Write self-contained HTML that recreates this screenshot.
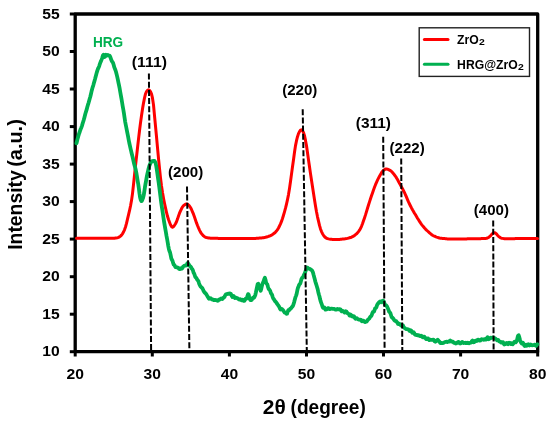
<!DOCTYPE html>
<html lang="en">
<head>
<meta charset="utf-8">
<title>XRD pattern: ZrO2 and HRG@ZrO2</title>
<style>
html,body{margin:0;padding:0;background:#fff;}
body{width:550px;height:423px;overflow:hidden;font-family:"Liberation Sans",sans-serif;}
svg{display:block;}
</style>
</head>
<body>
<svg width="550" height="423" viewBox="0 0 550 423">
<rect width="550" height="423" fill="#fff"/>
<rect x="75.2" y="14.0" width="462.5" height="337.7" fill="none" stroke="#000" stroke-width="3.3" stroke-linejoin="round"/>
<line x1="69.8" y1="351.7" x2="75.2" y2="351.7" stroke="#000" stroke-width="3"/>
<line x1="69.8" y1="314.2" x2="75.2" y2="314.2" stroke="#000" stroke-width="3"/>
<line x1="69.8" y1="276.7" x2="75.2" y2="276.7" stroke="#000" stroke-width="3"/>
<line x1="69.8" y1="239.1" x2="75.2" y2="239.1" stroke="#000" stroke-width="3"/>
<line x1="69.8" y1="201.6" x2="75.2" y2="201.6" stroke="#000" stroke-width="3"/>
<line x1="69.8" y1="164.1" x2="75.2" y2="164.1" stroke="#000" stroke-width="3"/>
<line x1="69.8" y1="126.6" x2="75.2" y2="126.6" stroke="#000" stroke-width="3"/>
<line x1="69.8" y1="89.0" x2="75.2" y2="89.0" stroke="#000" stroke-width="3"/>
<line x1="69.8" y1="51.5" x2="75.2" y2="51.5" stroke="#000" stroke-width="3"/>
<line x1="69.8" y1="14.0" x2="75.2" y2="14.0" stroke="#000" stroke-width="3"/>
<line x1="75.2" y1="351.7" x2="75.2" y2="356.5" stroke="#000" stroke-width="3"/>
<line x1="152.3" y1="351.7" x2="152.3" y2="356.5" stroke="#000" stroke-width="3"/>
<line x1="229.4" y1="351.7" x2="229.4" y2="356.5" stroke="#000" stroke-width="3"/>
<line x1="306.5" y1="351.7" x2="306.5" y2="356.5" stroke="#000" stroke-width="3"/>
<line x1="383.5" y1="351.7" x2="383.5" y2="356.5" stroke="#000" stroke-width="3"/>
<line x1="460.6" y1="351.7" x2="460.6" y2="356.5" stroke="#000" stroke-width="3"/>
<line x1="537.7" y1="351.7" x2="537.7" y2="356.5" stroke="#000" stroke-width="3"/>
<path d="M76.5,238.3 L77.5,238.3 L78.5,238.3 L79.5,238.3 L80.5,238.3 L81.5,238.3 L82.5,238.3 L83.5,238.3 L84.5,238.3 L85.5,238.3 L86.5,238.3 L87.5,238.3 L88.5,238.3 L89.5,238.3 L90.5,238.3 L91.5,238.3 L92.5,238.3 L93.5,238.3 L94.5,238.3 L95.5,238.3 L96.5,238.3 L97.5,238.3 L98.5,238.3 L99.5,238.3 L100.5,238.3 L101.5,238.3 L102.5,238.3 L103.5,238.3 L104.5,238.3 L105.5,238.3 L106.5,238.3 L107.5,238.3 L108.5,238.3 L109.5,238.3 L110.5,238.3 L111.5,238.3 L112.5,238.3 L113.5,238.3 L114.5,238.2 L115.5,238.0 L116.5,237.9 L117.5,237.7 L118.5,237.4 L119.5,236.9 L120.5,236.1 L121.5,235.1 L122.5,233.8 L123.5,232.0 L124.5,229.8 L125.5,227.0 L126.5,223.4 L127.5,219.1 L128.5,214.9 L129.5,210.7 L130.5,206.0 L131.5,200.6 L132.5,193.6 L133.5,184.7 L134.5,175.1 L135.5,165.6 L136.5,156.8 L137.5,148.0 L138.5,139.2 L139.5,130.8 L140.5,122.9 L141.5,115.8 L142.5,109.0 L143.5,103.1 L144.5,98.0 L145.5,93.8 L146.5,91.7 L147.5,90.3 L148.5,89.8 L149.5,90.3 L150.5,91.7 L151.5,93.8 L152.5,98.2 L153.5,104.9 L154.5,115.7 L155.5,126.1 L156.5,136.7 L157.5,147.6 L158.5,158.3 L159.5,168.5 L160.5,177.8 L161.5,185.9 L162.5,192.5 L163.5,198.2 L164.5,203.3 L165.5,207.9 L166.5,212.3 L167.5,216.3 L168.5,219.5 L169.5,222.2 L170.5,224.8 L171.5,226.6 L172.5,227.2 L173.5,226.6 L174.5,225.3 L175.5,223.7 L176.5,221.8 L177.5,219.1 L178.5,216.0 L179.5,213.2 L180.5,210.9 L181.5,208.8 L182.5,206.9 L183.5,205.7 L184.5,204.9 L185.5,204.2 L186.5,203.9 L187.5,204.1 L188.5,205.0 L189.5,206.1 L190.5,207.5 L191.5,209.5 L192.5,211.8 L193.5,214.2 L194.5,217.0 L195.5,220.0 L196.5,222.9 L197.5,225.5 L198.5,227.9 L199.5,230.1 L200.5,232.1 L201.5,233.6 L202.5,234.8 L203.5,235.9 L204.5,236.7 L205.5,237.3 L206.5,237.6 L207.5,237.8 L208.5,238.0 L209.5,238.1 L210.5,238.2 L211.5,238.3 L212.5,238.3 L213.5,238.3 L214.5,238.3 L215.5,238.3 L216.5,238.3 L217.5,238.3 L218.5,238.4 L219.5,238.4 L220.5,238.4 L221.5,238.4 L222.5,238.4 L223.5,238.4 L224.5,238.4 L225.5,238.4 L226.5,238.4 L227.5,238.4 L228.5,238.4 L229.5,238.4 L230.5,238.4 L231.5,238.4 L232.5,238.4 L233.5,238.4 L234.5,238.4 L235.5,238.4 L236.5,238.4 L237.5,238.4 L238.5,238.5 L239.5,238.5 L240.5,238.5 L241.5,238.5 L242.5,238.5 L243.5,238.5 L244.5,238.5 L245.5,238.5 L246.5,238.5 L247.5,238.5 L248.5,238.5 L249.5,238.5 L250.5,238.5 L251.5,238.5 L252.5,238.5 L253.5,238.4 L254.5,238.4 L255.5,238.4 L256.5,238.3 L257.5,238.2 L258.5,238.2 L259.5,238.1 L260.5,238.0 L261.5,237.9 L262.5,237.8 L263.5,237.7 L264.5,237.5 L265.5,237.3 L266.5,237.0 L267.5,236.7 L268.5,236.4 L269.5,236.0 L270.5,235.6 L271.5,235.1 L272.5,234.5 L273.5,233.8 L274.5,233.1 L275.5,232.1 L276.5,231.0 L277.5,229.6 L278.5,228.0 L279.5,226.0 L280.5,223.9 L281.5,221.4 L282.5,218.5 L283.5,215.3 L284.5,211.9 L285.5,208.2 L286.5,204.1 L287.5,199.6 L288.5,194.6 L289.5,188.5 L290.5,181.5 L291.5,174.1 L292.5,166.8 L293.5,159.7 L294.5,152.3 L295.5,145.6 L296.5,140.7 L297.5,136.7 L298.5,133.6 L299.5,131.6 L300.5,130.2 L301.5,129.8 L302.5,130.8 L303.5,132.5 L304.5,135.6 L305.5,140.4 L306.5,145.8 L307.5,152.7 L308.5,159.9 L309.5,166.8 L310.5,173.6 L311.5,180.3 L312.5,186.8 L313.5,193.3 L314.5,199.8 L315.5,206.1 L316.5,211.8 L317.5,216.8 L318.5,221.2 L319.5,225.4 L320.5,228.9 L321.5,231.6 L322.5,233.7 L323.5,235.3 L324.5,236.6 L325.5,237.6 L326.5,238.3 L327.5,238.6 L328.5,238.9 L329.5,239.1 L330.5,239.3 L331.5,239.3 L332.5,239.4 L333.5,239.4 L334.5,239.5 L335.5,239.5 L336.5,239.5 L337.5,239.5 L338.5,239.4 L339.5,239.4 L340.5,239.3 L341.5,239.2 L342.5,239.1 L343.5,239.0 L344.5,238.9 L345.5,238.7 L346.5,238.6 L347.5,238.4 L348.5,238.1 L349.5,237.8 L350.5,237.5 L351.5,237.2 L352.5,236.7 L353.5,236.1 L354.5,235.5 L355.5,234.7 L356.5,233.9 L357.5,232.8 L358.5,231.6 L359.5,230.2 L360.5,228.5 L361.5,226.3 L362.5,223.7 L363.5,220.8 L364.5,217.9 L365.5,214.9 L366.5,211.6 L367.5,208.3 L368.5,205.0 L369.5,201.9 L370.5,198.8 L371.5,195.8 L372.5,192.9 L373.5,190.0 L374.5,187.3 L375.5,184.7 L376.5,182.3 L377.5,180.1 L378.5,178.1 L379.5,176.2 L380.5,174.4 L381.5,172.7 L382.5,171.3 L383.5,170.4 L384.5,169.6 L385.5,169.1 L386.5,169.0 L387.5,169.2 L388.5,169.6 L389.5,170.1 L390.5,170.6 L391.5,171.4 L392.5,172.5 L393.5,173.7 L394.5,175.0 L395.5,176.3 L396.5,177.9 L397.5,179.6 L398.5,181.4 L399.5,183.2 L400.5,185.1 L401.5,187.0 L402.5,188.8 L403.5,190.7 L404.5,192.7 L405.5,194.8 L406.5,197.2 L407.5,199.6 L408.5,201.9 L409.5,204.0 L410.5,206.0 L411.5,207.9 L412.5,209.7 L413.5,211.4 L414.5,213.2 L415.5,214.8 L416.5,216.5 L417.5,218.2 L418.5,219.8 L419.5,221.4 L420.5,222.9 L421.5,224.3 L422.5,225.6 L423.5,226.8 L424.5,228.0 L425.5,229.1 L426.5,230.1 L427.5,231.0 L428.5,231.9 L429.5,232.8 L430.5,233.7 L431.5,234.5 L432.5,235.2 L433.5,235.8 L434.5,236.2 L435.5,236.7 L436.5,237.1 L437.5,237.4 L438.5,237.7 L439.5,238.0 L440.5,238.2 L441.5,238.3 L442.5,238.4 L443.5,238.5 L444.5,238.6 L445.5,238.7 L446.5,238.8 L447.5,238.9 L448.5,238.9 L449.5,239.0 L450.5,239.0 L451.5,239.0 L452.5,239.0 L453.5,239.0 L454.5,239.0 L455.5,239.0 L456.5,239.0 L457.5,239.0 L458.5,239.0 L459.5,239.0 L460.5,238.9 L461.5,238.9 L462.5,238.9 L463.5,238.9 L464.5,238.9 L465.5,238.9 L466.5,238.9 L467.5,238.8 L468.5,238.8 L469.5,238.8 L470.5,238.8 L471.5,238.8 L472.5,238.8 L473.5,238.8 L474.5,238.7 L475.5,238.7 L476.5,238.7 L477.5,238.7 L478.5,238.7 L479.5,238.7 L480.5,238.7 L481.5,238.6 L482.5,238.6 L483.5,238.6 L484.5,238.5 L485.5,238.5 L486.5,238.3 L487.5,238.0 L488.5,237.5 L489.5,236.7 L490.5,235.8 L491.5,234.6 L492.5,233.7 L493.5,232.9 L494.5,232.7 L495.5,233.2 L496.5,234.0 L497.5,235.2 L498.5,236.3 L499.5,237.1 L500.5,237.8 L501.5,238.2 L502.5,238.4 L503.5,238.6 L504.5,238.7 L505.5,238.8 L506.5,238.8 L507.5,238.8 L508.5,238.8 L509.5,238.8 L510.5,238.8 L511.5,238.7 L512.5,238.7 L513.5,238.7 L514.5,238.7 L515.5,238.6 L516.5,238.6 L517.5,238.6 L518.5,238.6 L519.5,238.6 L520.5,238.6 L521.5,238.6 L522.5,238.6 L523.5,238.6 L524.5,238.6 L525.5,238.6 L526.5,238.6 L527.5,238.6 L528.5,238.6 L529.5,238.6 L530.5,238.6 L531.5,238.6 L532.5,238.6 L533.5,238.6 L534.5,238.6 L535.5,238.6 L536.5,238.6 L537.5,238.6" fill="none" stroke="#ff0000" stroke-width="3.0" stroke-linejoin="round" stroke-linecap="round"/>
<path d="M76.5,143.3 L77.1,140.8 L77.7,138.4 L78.3,136.3 L78.9,134.2 L79.5,132.5 L80.1,130.7 L80.7,129.0 L81.3,127.7 L81.9,126.1 L82.5,123.9 L83.1,122.0 L83.7,120.1 L84.3,117.9 L84.9,115.5 L85.5,113.3 L86.1,111.4 L86.7,109.4 L87.3,107.1 L87.9,104.9 L88.5,103.1 L89.1,100.9 L89.7,98.7 L90.3,96.8 L90.9,94.2 L91.5,91.6 L92.1,89.3 L92.7,87.1 L93.3,85.3 L93.9,83.1 L94.5,80.9 L95.1,78.8 L95.7,76.5 L96.3,74.3 L96.9,72.1 L97.5,70.1 L98.1,68.5 L98.7,67.4 L99.3,65.8 L99.9,63.8 L100.5,62.2 L101.1,60.9 L101.7,59.4 L102.3,57.5 L102.9,55.4 L103.5,54.7 L104.1,56.1 L104.7,57.0 L105.3,55.5 L105.9,54.8 L106.5,55.7 L107.1,55.5 L107.7,55.0 L108.3,55.3 L108.9,55.5 L109.5,55.6 L110.1,56.5 L110.7,58.2 L111.3,59.9 L111.9,61.2 L112.5,61.9 L113.1,62.9 L113.7,65.1 L114.3,67.3 L114.9,68.7 L115.5,70.2 L116.1,72.2 L116.7,74.6 L117.3,77.1 L117.9,79.9 L118.5,82.9 L119.1,85.7 L119.7,88.7 L120.3,92.3 L120.9,95.7 L121.5,98.9 L122.1,102.5 L122.7,106.2 L123.3,109.5 L123.9,113.1 L124.5,117.3 L125.1,121.3 L125.7,124.5 L126.3,127.5 L126.9,130.6 L127.5,133.6 L128.1,136.7 L128.7,140.0 L129.3,143.0 L129.9,145.6 L130.5,148.3 L131.1,150.9 L131.7,153.5 L132.3,155.9 L132.9,158.3 L133.5,161.0 L134.1,163.8 L134.7,165.9 L135.3,168.0 L135.9,170.5 L136.5,173.7 L137.1,177.4 L137.7,181.0 L138.3,184.5 L138.9,188.7 L139.5,193.5 L140.1,197.5 L140.7,199.7 L141.3,201.1 L141.9,200.9 L142.5,199.4 L143.1,197.8 L143.7,195.4 L144.3,191.6 L144.9,187.4 L145.5,183.9 L146.1,180.7 L146.7,177.1 L147.3,174.2 L147.9,171.7 L148.5,169.0 L149.1,166.6 L149.7,164.9 L150.3,163.5 L150.9,162.4 L151.5,161.7 L152.1,161.1 L152.7,161.0 L153.3,161.0 L153.9,160.8 L154.5,160.9 L155.1,161.9 L155.7,163.5 L156.3,166.5 L156.9,170.3 L157.5,174.4 L158.1,178.7 L158.7,182.8 L159.3,187.2 L159.9,192.0 L160.5,196.8 L161.1,201.7 L161.7,205.9 L162.3,209.6 L162.9,213.7 L163.5,218.0 L164.1,221.9 L164.7,225.4 L165.3,228.8 L165.9,232.3 L166.5,235.9 L167.1,239.0 L167.7,242.5 L168.3,246.1 L168.9,249.2 L169.5,251.2 L170.1,252.6 L170.7,255.4 L171.3,258.4 L171.9,259.8 L172.5,260.8 L173.1,262.9 L173.7,264.6 L174.3,264.9 L174.9,266.0 L175.5,267.1 L176.1,267.2 L176.7,267.4 L177.3,267.4 L177.9,267.5 L178.5,268.2 L179.1,268.8 L179.7,269.2 L180.3,269.0 L180.9,268.2 L181.5,268.0 L182.1,268.4 L182.7,267.5 L183.3,266.4 L183.9,266.1 L184.5,265.7 L185.1,265.5 L185.7,265.6 L186.3,265.5 L186.9,264.4 L187.5,263.1 L188.1,263.3 L188.7,264.4 L189.3,265.3 L189.9,266.2 L190.5,266.5 L191.1,267.2 L191.7,268.6 L192.3,269.1 L192.9,270.3 L193.5,272.4 L194.1,273.4 L194.7,275.1 L195.3,277.0 L195.9,277.5 L196.5,278.2 L197.1,279.6 L197.7,280.2 L198.3,280.9 L198.9,282.8 L199.5,284.5 L200.1,285.7 L200.7,286.6 L201.3,287.2 L201.9,287.7 L202.5,288.5 L203.1,289.8 L203.7,291.2 L204.3,292.0 L204.9,292.8 L205.5,293.3 L206.1,293.9 L206.7,295.0 L207.3,295.9 L207.9,296.9 L208.5,298.0 L209.1,298.8 L209.7,298.6 L210.3,298.2 L210.9,298.4 L211.5,299.1 L212.1,299.6 L212.7,299.4 L213.3,299.7 L213.9,300.1 L214.5,299.8 L215.1,299.8 L215.7,300.2 L216.3,300.2 L216.9,300.3 L217.5,300.8 L218.1,300.6 L218.7,299.8 L219.3,299.4 L219.9,299.5 L220.5,298.9 L221.1,298.4 L221.7,299.0 L222.3,299.1 L222.9,298.3 L223.5,297.7 L224.1,297.3 L224.7,296.5 L225.3,295.2 L225.9,294.4 L226.5,294.2 L227.1,294.1 L227.7,293.8 L228.3,293.7 L228.9,293.7 L229.5,293.8 L230.1,293.5 L230.7,293.7 L231.3,294.9 L231.9,296.2 L232.5,297.0 L233.1,296.6 L233.7,296.0 L234.3,297.1 L234.9,298.1 L235.5,297.8 L236.1,297.6 L236.7,297.9 L237.3,298.2 L237.9,298.6 L238.5,299.1 L239.1,299.6 L239.7,299.4 L240.3,299.1 L240.9,299.9 L241.5,300.4 L242.1,300.1 L242.7,299.7 L243.3,299.9 L243.9,300.9 L244.5,300.7 L245.1,299.3 L245.7,298.7 L246.3,298.8 L246.9,298.1 L247.5,295.8 L248.1,294.1 L248.7,294.8 L249.3,297.2 L249.9,299.2 L250.5,300.1 L251.1,300.2 L251.7,299.9 L252.3,298.5 L252.9,297.8 L253.5,298.1 L254.1,297.6 L254.7,296.4 L255.3,295.0 L255.9,292.4 L256.5,289.4 L257.1,286.7 L257.7,284.0 L258.3,283.8 L258.9,285.4 L259.5,287.0 L260.1,289.2 L260.7,290.8 L261.3,288.7 L261.9,285.9 L262.5,283.8 L263.1,282.4 L263.7,281.1 L264.3,279.1 L264.9,277.8 L265.5,279.7 L266.1,282.7 L266.7,283.6 L267.3,284.4 L267.9,286.6 L268.5,288.4 L269.1,289.4 L269.7,290.0 L270.3,291.2 L270.9,293.1 L271.5,294.0 L272.1,294.9 L272.7,297.1 L273.3,298.6 L273.9,299.3 L274.5,300.3 L275.1,301.3 L275.7,301.8 L276.3,302.5 L276.9,303.5 L277.5,304.3 L278.1,305.2 L278.7,305.9 L279.3,306.9 L279.9,308.5 L280.5,309.4 L281.1,308.9 L281.7,308.8 L282.3,309.5 L282.9,310.0 L283.5,310.8 L284.1,311.8 L284.7,312.7 L285.3,312.8 L285.9,312.8 L286.5,313.8 L287.1,313.7 L287.7,311.6 L288.3,310.1 L288.9,310.3 L289.5,309.9 L290.1,308.8 L290.7,308.6 L291.3,308.0 L291.9,307.0 L292.5,306.5 L293.1,305.5 L293.7,303.6 L294.3,301.6 L294.9,299.3 L295.5,297.1 L296.1,295.6 L296.7,293.6 L297.3,290.5 L297.9,287.9 L298.5,286.5 L299.1,284.9 L299.7,284.1 L300.3,283.5 L300.9,281.3 L301.5,278.9 L302.1,277.9 L302.7,277.5 L303.3,276.3 L303.9,275.0 L304.5,273.9 L305.1,272.3 L305.7,270.8 L306.3,268.9 L306.9,267.5 L307.5,267.6 L308.1,268.4 L308.7,268.6 L309.3,268.8 L309.9,268.9 L310.5,269.4 L311.1,269.8 L311.7,270.1 L312.3,270.9 L312.9,272.3 L313.5,274.6 L314.1,276.7 L314.7,278.9 L315.3,281.5 L315.9,283.4 L316.5,285.3 L317.1,287.2 L317.7,289.3 L318.3,292.2 L318.9,294.5 L319.5,296.5 L320.1,299.3 L320.7,301.4 L321.3,303.1 L321.9,304.7 L322.5,306.6 L323.1,307.8 L323.7,307.4 L324.3,307.4 L324.9,308.7 L325.5,309.6 L326.1,309.4 L326.7,309.3 L327.3,309.0 L327.9,308.1 L328.5,308.2 L329.1,308.8 L329.7,309.2 L330.3,309.0 L330.9,308.7 L331.5,308.7 L332.1,308.6 L332.7,308.9 L333.3,308.9 L333.9,308.8 L334.5,309.0 L335.1,309.5 L335.7,309.5 L336.3,309.5 L336.9,309.2 L337.5,308.9 L338.1,309.2 L338.7,309.4 L339.3,309.3 L339.9,309.1 L340.5,309.4 L341.1,310.7 L341.7,311.3 L342.3,310.8 L342.9,310.8 L343.5,311.4 L344.1,312.0 L344.7,312.6 L345.3,312.2 L345.9,311.3 L346.5,311.7 L347.1,312.7 L347.7,313.3 L348.3,313.6 L348.9,314.2 L349.5,315.6 L350.1,315.7 L350.7,314.6 L351.3,315.1 L351.9,316.3 L352.5,316.6 L353.1,316.3 L353.7,316.1 L354.3,316.8 L354.9,318.1 L355.5,318.8 L356.1,318.4 L356.7,318.2 L357.3,318.6 L357.9,319.1 L358.5,319.6 L359.1,319.6 L359.7,319.6 L360.3,319.7 L360.9,319.9 L361.5,320.9 L362.1,321.2 L362.7,320.6 L363.3,320.6 L363.9,321.0 L364.5,321.7 L365.1,322.0 L365.7,321.7 L366.3,321.7 L366.9,321.2 L367.5,320.2 L368.1,319.6 L368.7,319.1 L369.3,318.4 L369.9,317.4 L370.5,316.5 L371.1,316.1 L371.7,315.2 L372.3,313.3 L372.9,312.0 L373.5,312.0 L374.1,311.4 L374.7,309.6 L375.3,308.0 L375.9,307.9 L376.5,306.9 L377.1,305.0 L377.7,304.0 L378.3,303.3 L378.9,302.5 L379.5,302.0 L380.1,301.5 L380.7,301.8 L381.3,302.3 L381.9,301.6 L382.5,300.8 L383.1,300.7 L383.7,301.3 L384.3,302.7 L384.9,304.7 L385.5,305.2 L386.1,305.2 L386.7,305.9 L387.3,307.2 L387.9,308.3 L388.5,309.9 L389.1,311.6 L389.7,312.2 L390.3,312.9 L390.9,314.8 L391.5,316.8 L392.1,317.6 L392.7,317.8 L393.3,318.6 L393.9,319.6 L394.5,320.5 L395.1,320.9 L395.7,320.8 L396.3,321.3 L396.9,322.1 L397.5,322.9 L398.1,324.0 L398.7,324.1 L399.3,323.7 L399.9,324.2 L400.5,324.7 L401.1,325.5 L401.7,325.9 L402.3,325.3 L402.9,325.4 L403.5,326.7 L404.1,327.5 L404.7,328.0 L405.3,328.5 L405.9,328.9 L406.5,329.1 L407.1,329.1 L407.7,329.3 L408.3,329.4 L408.9,329.8 L409.5,331.0 L410.1,331.1 L410.7,330.3 L411.3,330.8 L411.9,332.2 L412.5,332.9 L413.1,332.6 L413.7,332.3 L414.3,333.1 L414.9,334.6 L415.5,334.9 L416.1,334.8 L416.7,335.1 L417.3,335.3 L417.9,335.2 L418.5,335.2 L419.1,335.6 L419.7,336.0 L420.3,336.2 L420.9,335.7 L421.5,335.8 L422.1,336.9 L422.7,337.4 L423.3,337.0 L423.9,336.6 L424.5,336.8 L425.1,337.6 L425.7,338.7 L426.3,339.1 L426.9,338.9 L427.5,338.5 L428.1,338.5 L428.7,339.5 L429.3,340.1 L429.9,339.7 L430.5,339.6 L431.1,339.9 L431.7,339.9 L432.3,339.9 L432.9,339.6 L433.5,339.6 L434.1,340.5 L434.7,341.3 L435.3,341.7 L435.9,341.2 L436.5,340.7 L437.1,340.2 L437.7,339.7 L438.3,340.4 L438.9,341.3 L439.5,341.8 L440.1,342.8 L440.7,343.2 L441.3,343.0 L441.9,343.2 L442.5,343.2 L443.1,343.0 L443.7,342.7 L444.3,342.4 L444.9,342.0 L445.5,341.9 L446.1,341.8 L446.7,341.7 L447.3,342.0 L447.9,341.7 L448.5,341.5 L449.1,341.7 L449.7,341.3 L450.3,340.6 L450.9,341.2 L451.5,341.6 L452.1,341.5 L452.7,341.6 L453.3,342.0 L453.9,342.8 L454.5,342.8 L455.1,343.0 L455.7,343.5 L456.3,343.4 L456.9,343.0 L457.5,342.5 L458.1,342.0 L458.7,342.0 L459.3,342.7 L459.9,343.4 L460.5,343.5 L461.1,343.1 L461.7,342.3 L462.3,341.9 L462.9,342.4 L463.5,343.0 L464.1,343.0 L464.7,342.9 L465.3,343.0 L465.9,342.7 L466.5,342.9 L467.1,343.1 L467.7,342.6 L468.3,342.9 L468.9,343.4 L469.5,343.1 L470.1,342.6 L470.7,342.7 L471.3,342.5 L471.9,341.1 L472.5,340.5 L473.1,341.4 L473.7,342.3 L474.3,342.1 L474.9,341.0 L475.5,340.7 L476.1,341.1 L476.7,341.0 L477.3,340.2 L477.9,339.6 L478.5,339.8 L479.1,340.5 L479.7,340.7 L480.3,340.5 L480.9,339.7 L481.5,339.2 L482.1,339.3 L482.7,339.4 L483.3,339.7 L483.9,339.8 L484.5,339.1 L485.1,339.0 L485.7,339.7 L486.3,339.5 L486.9,338.1 L487.5,337.2 L488.1,338.1 L488.7,339.2 L489.3,339.0 L489.9,338.1 L490.5,337.6 L491.1,337.9 L491.7,338.0 L492.3,337.6 L492.9,337.5 L493.5,337.8 L494.1,338.0 L494.7,338.1 L495.3,338.7 L495.9,339.1 L496.5,339.5 L497.1,340.4 L497.7,340.5 L498.3,340.1 L498.9,341.0 L499.5,341.5 L500.1,341.6 L500.7,342.2 L501.3,342.6 L501.9,342.6 L502.5,342.1 L503.1,342.2 L503.7,343.7 L504.3,344.5 L504.9,344.3 L505.5,343.8 L506.1,343.2 L506.7,342.9 L507.3,343.8 L507.9,344.2 L508.5,343.3 L509.1,342.7 L509.7,342.9 L510.3,343.7 L510.9,344.0 L511.5,343.2 L512.1,343.5 L512.7,344.2 L513.3,343.5 L513.9,342.4 L514.5,341.7 L515.1,341.9 L515.7,342.3 L516.3,341.7 L516.9,340.5 L517.5,337.8 L518.1,335.6 L518.7,335.3 L519.3,337.1 L519.9,339.5 L520.5,341.4 L521.1,342.6 L521.7,343.5 L522.3,343.2 L522.9,342.7 L523.5,343.7 L524.1,345.2 L524.7,345.9 L525.3,344.9 L525.9,344.7 L526.5,345.8 L527.1,345.6 L527.7,344.6 L528.3,344.1 L528.9,344.6 L529.5,345.4 L530.1,345.0 L530.7,344.4 L531.3,344.9 L531.9,345.4 L532.5,345.2 L533.1,345.1 L533.7,345.2 L534.3,344.8 L534.9,344.6 L535.5,345.4 L536.1,345.8 L536.7,345.0 L537.3,344.3" fill="none" stroke="#00b050" stroke-width="3.8" stroke-linejoin="round" stroke-linecap="round"/>
<line x1="148.9" y1="73.5" x2="151.1" y2="350.2" stroke="#000" stroke-width="2.0" stroke-dasharray="6 2.2"/>
<line x1="187.0" y1="186.4" x2="189.4" y2="350.2" stroke="#000" stroke-width="2.0" stroke-dasharray="6 2.2"/>
<line x1="302.7" y1="109.2" x2="306.8" y2="350.2" stroke="#000" stroke-width="2.0" stroke-dasharray="6 2.2"/>
<line x1="383.2" y1="136.8" x2="384.6" y2="350.2" stroke="#000" stroke-width="2.0" stroke-dasharray="6 2.2"/>
<line x1="401.2" y1="158.5" x2="402.3" y2="350.2" stroke="#000" stroke-width="2.0" stroke-dasharray="6 2.2"/>
<line x1="493.2" y1="220.6" x2="493.6" y2="350.2" stroke="#000" stroke-width="2.0" stroke-dasharray="6 2.2"/>
<text x="59.6" y="356.3" text-anchor="end" font-size="14.9" textLength="17.4" lengthAdjust="spacingAndGlyphs" font-family="Liberation Sans, sans-serif" font-weight="bold">10</text>
<text x="59.6" y="318.8" text-anchor="end" font-size="14.9" textLength="17.4" lengthAdjust="spacingAndGlyphs" font-family="Liberation Sans, sans-serif" font-weight="bold">15</text>
<text x="59.6" y="281.3" text-anchor="end" font-size="14.9" textLength="17.4" lengthAdjust="spacingAndGlyphs" font-family="Liberation Sans, sans-serif" font-weight="bold">20</text>
<text x="59.6" y="243.7" text-anchor="end" font-size="14.9" textLength="17.4" lengthAdjust="spacingAndGlyphs" font-family="Liberation Sans, sans-serif" font-weight="bold">25</text>
<text x="59.6" y="206.2" text-anchor="end" font-size="14.9" textLength="17.4" lengthAdjust="spacingAndGlyphs" font-family="Liberation Sans, sans-serif" font-weight="bold">30</text>
<text x="59.6" y="168.7" text-anchor="end" font-size="14.9" textLength="17.4" lengthAdjust="spacingAndGlyphs" font-family="Liberation Sans, sans-serif" font-weight="bold">35</text>
<text x="59.6" y="131.2" text-anchor="end" font-size="14.9" textLength="17.4" lengthAdjust="spacingAndGlyphs" font-family="Liberation Sans, sans-serif" font-weight="bold">40</text>
<text x="59.6" y="93.6" text-anchor="end" font-size="14.9" textLength="17.4" lengthAdjust="spacingAndGlyphs" font-family="Liberation Sans, sans-serif" font-weight="bold">45</text>
<text x="59.6" y="56.1" text-anchor="end" font-size="14.9" textLength="17.4" lengthAdjust="spacingAndGlyphs" font-family="Liberation Sans, sans-serif" font-weight="bold">50</text>
<text x="59.6" y="18.6" text-anchor="end" font-size="14.9" textLength="17.4" lengthAdjust="spacingAndGlyphs" font-family="Liberation Sans, sans-serif" font-weight="bold">55</text>
<text x="75.2" y="378.5" text-anchor="middle" font-size="14.9" textLength="17.4" lengthAdjust="spacingAndGlyphs" font-family="Liberation Sans, sans-serif" font-weight="bold">20</text>
<text x="152.3" y="378.5" text-anchor="middle" font-size="14.9" textLength="17.4" lengthAdjust="spacingAndGlyphs" font-family="Liberation Sans, sans-serif" font-weight="bold">30</text>
<text x="229.4" y="378.5" text-anchor="middle" font-size="14.9" textLength="17.4" lengthAdjust="spacingAndGlyphs" font-family="Liberation Sans, sans-serif" font-weight="bold">40</text>
<text x="306.5" y="378.5" text-anchor="middle" font-size="14.9" textLength="17.4" lengthAdjust="spacingAndGlyphs" font-family="Liberation Sans, sans-serif" font-weight="bold">50</text>
<text x="383.5" y="378.5" text-anchor="middle" font-size="14.9" textLength="17.4" lengthAdjust="spacingAndGlyphs" font-family="Liberation Sans, sans-serif" font-weight="bold">60</text>
<text x="460.6" y="378.5" text-anchor="middle" font-size="14.9" textLength="17.4" lengthAdjust="spacingAndGlyphs" font-family="Liberation Sans, sans-serif" font-weight="bold">70</text>
<text x="537.7" y="378.5" text-anchor="middle" font-size="14.9" textLength="17.4" lengthAdjust="spacingAndGlyphs" font-family="Liberation Sans, sans-serif" font-weight="bold">80</text>
<text x="131.8" y="67.0" font-size="15.3" textLength="35.2" lengthAdjust="spacingAndGlyphs" font-family="Liberation Sans, sans-serif" font-weight="bold">(111)</text>
<text x="168.0" y="177.3" font-size="15.3" textLength="35.2" lengthAdjust="spacingAndGlyphs" font-family="Liberation Sans, sans-serif" font-weight="bold">(200)</text>
<text x="282.2" y="95.4" font-size="15.3" textLength="35.2" lengthAdjust="spacingAndGlyphs" font-family="Liberation Sans, sans-serif" font-weight="bold">(220)</text>
<text x="355.8" y="128.3" font-size="15.3" textLength="35.2" lengthAdjust="spacingAndGlyphs" font-family="Liberation Sans, sans-serif" font-weight="bold">(311)</text>
<text x="389.5" y="152.5" font-size="15.3" textLength="35.2" lengthAdjust="spacingAndGlyphs" font-family="Liberation Sans, sans-serif" font-weight="bold">(222)</text>
<text x="473.8" y="215.4" font-size="15.3" textLength="35.2" lengthAdjust="spacingAndGlyphs" font-family="Liberation Sans, sans-serif" font-weight="bold">(400)</text>
<text x="92.9" y="46.5" font-size="14.4" fill="#00b050" textLength="30.3" lengthAdjust="spacingAndGlyphs" font-family="Liberation Sans, sans-serif" font-weight="bold">HRG</text>
<text x="262.8" y="414.3" font-size="19.6" textLength="23.0" lengthAdjust="spacingAndGlyphs" font-family="Liberation Sans, sans-serif" font-weight="bold">2θ</text>
<text x="290.6" y="414.3" font-size="19.6" textLength="75.2" lengthAdjust="spacingAndGlyphs" font-family="Liberation Sans, sans-serif" font-weight="bold">(degree)</text>
<text transform="translate(22.3,249.8) rotate(-90)" font-size="19.4" textLength="79.6" lengthAdjust="spacingAndGlyphs" font-family="Liberation Sans, sans-serif" font-weight="bold">Intensity</text>
<text transform="translate(22.3,166.8) rotate(-90)" font-size="19.4" textLength="47.6" lengthAdjust="spacingAndGlyphs" font-family="Liberation Sans, sans-serif" font-weight="bold">(a.u.)</text>
<rect x="419.2" y="27.8" width="110.3" height="48.6" fill="#fff" stroke="#222" stroke-width="1.4"/>
<line x1="424.4" y1="39.5" x2="448.0" y2="39.5" stroke="#ff0000" stroke-width="3" stroke-linecap="round"/>
<line x1="424.4" y1="64.2" x2="448.0" y2="64.2" stroke="#00b050" stroke-width="3" stroke-linecap="round"/>
<text x="457.0" y="43.7" font-size="12.7" font-family="Liberation Sans, sans-serif" font-weight="bold"><tspan textLength="21.7" lengthAdjust="spacingAndGlyphs">ZrO</tspan><tspan font-size="9.2" dy="1.2" dx="0.4" textLength="5.8" lengthAdjust="spacingAndGlyphs">2</tspan></text>
<text x="457.1" y="68.6" font-size="12.7" font-family="Liberation Sans, sans-serif" font-weight="bold"><tspan textLength="60.6" lengthAdjust="spacingAndGlyphs">HRG@ZrO</tspan><tspan font-size="9.2" dy="1.2" dx="0.4" textLength="5.8" lengthAdjust="spacingAndGlyphs">2</tspan></text>
</svg>
</body>
</html>
